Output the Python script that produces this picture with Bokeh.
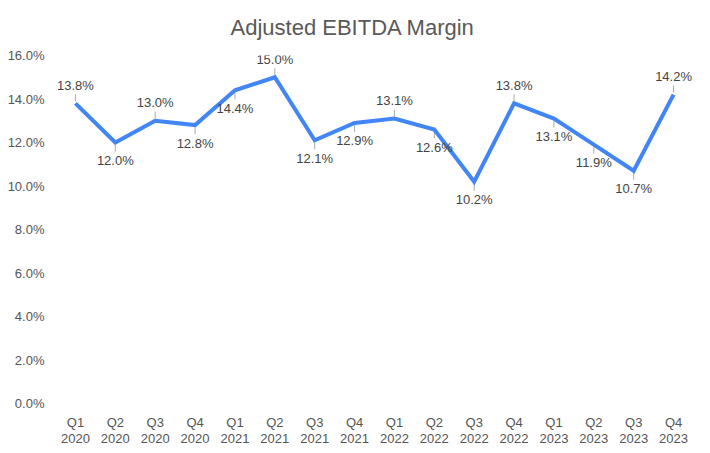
from bokeh.plotting import figure
from bokeh.models import FixedTicker, PrintfTickFormatter, ColumnDataSource, Range1d
from bokeh.core.properties import value
from bokeh.embed import file_html
from bokeh.resources import INLINE

quarters = ["Q1", "Q2", "Q3", "Q4"] * 4
years = ["2020"] * 4 + ["2021"] * 4 + ["2022"] * 4 + ["2023"] * 4
margins = [13.8, 12.0, 13.0, 12.8, 14.4, 15.0, 12.1, 12.9, 13.1, 12.6, 10.2, 13.8, 13.1, 11.9, 10.7, 14.2]
label_above = [True, False, True, False, False, True, False, False, True, False, False, True, False, False, False, True]
y_ticks = [0, 2, 4, 6, 8, 10, 12, 14, 16]

FONT = "Liberation Sans"
xs = list(range(len(margins)))

p = figure(frame_width=638, frame_height=348, output_backend="svg", toolbar_location=None,
           x_range=Range1d(-0.5, len(margins) - 0.5), y_range=Range1d(0, 16),
           min_border_left=55, min_border_right=2, min_border_top=55, min_border_bottom=38,
           title="Adjusted EBITDA Margin")
p.outline_line_color = None
p.title.align = "left"
p.title.vertical_align = "top"
p.title.text_font = FONT
p.title.text_font_size = "22px"
p.title.text_font_style = "normal"
p.title.text_color = "#595959"
p.title.offset = 175
p.title.standoff = 27

p.xaxis.ticker = FixedTicker(ticks=xs)
p.xaxis.major_label_overrides = {i: f"{q}\n{y}" for i, (q, y) in enumerate(zip(quarters, years))}
p.yaxis.ticker = FixedTicker(ticks=y_ticks)
p.yaxis.formatter = PrintfTickFormatter(format="%.1f%%")
for ax in (p.xaxis, p.yaxis):
    ax.axis_line_color = None
    ax.major_tick_line_color = None
    ax.minor_tick_line_color = None
    ax.major_label_text_font = FONT
    ax.major_label_text_font_size = "13px"
    ax.major_label_text_color = "#555555"
p.yaxis.major_label_standoff = 5
p.xaxis.major_label_standoff = 5
p.xaxis.major_label_text_line_height = 1.1
p.xgrid.grid_line_color = None
p.ygrid.ticker = FixedTicker(ticks=[0])
p.ygrid.grid_line_color = "#d9d9d9"

# leader ticks (offsets in data units relative to point)
px = 16 / 348.0
y0 = [m + (2 * px if a else -2 * px) for m, a in zip(margins, label_above)]
y1 = [m + (9 * px if a else -9 * px) for m, a in zip(margins, label_above)]
p.segment(x0=xs, x1=xs, y0=y0, y1=y1, line_color="#aaaaaa", line_width=1)

p.line(xs, margins, line_color="#4285F4", line_width=4, line_join="miter")

src = ColumnDataSource(dict(
    x=xs, y=margins,
    t=[f"{m:.1f}%" for m in margins],
    off=[-18 if a else 18 for a in label_above],
))
p.text(x="x", y="y", text="t", y_offset="off", source=src,
       text_font=value(FONT), text_font_size="13px", text_color="#444444",
       text_align="center", text_baseline="middle")

open("out.html", "w").write(file_html(p, INLINE))
